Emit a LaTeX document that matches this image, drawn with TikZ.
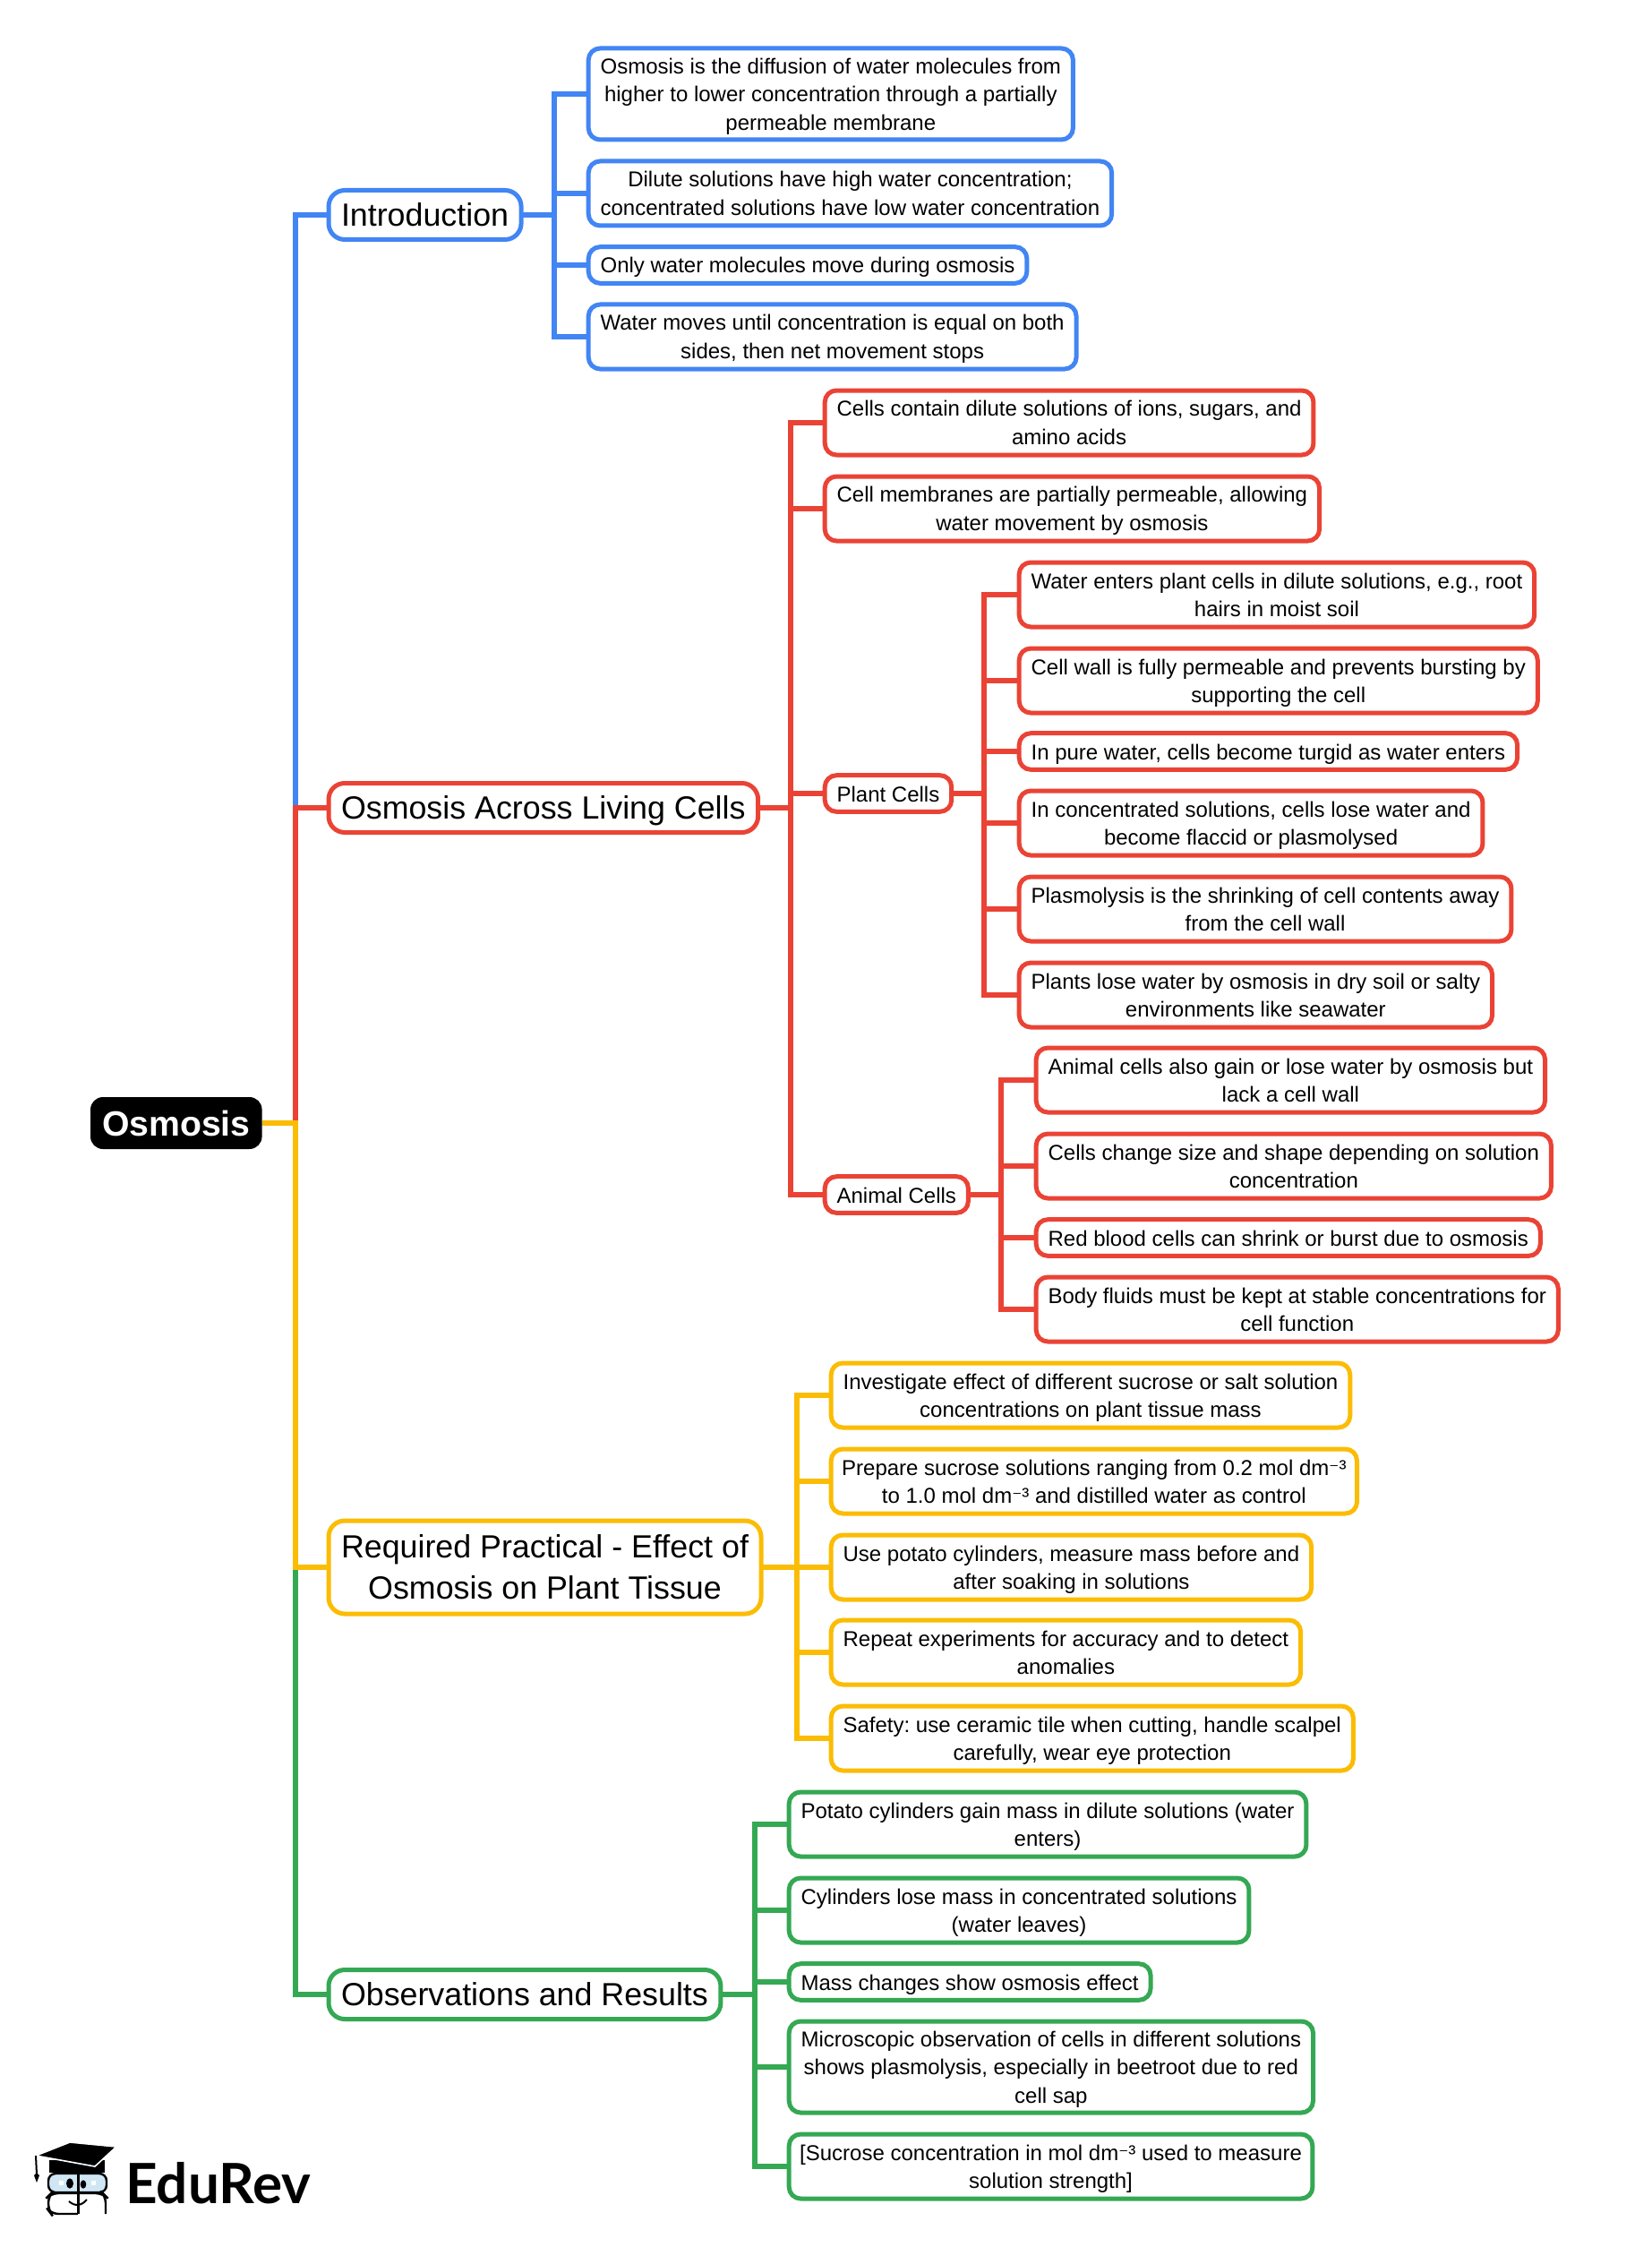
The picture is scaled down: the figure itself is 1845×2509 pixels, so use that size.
\documentclass[tikz,border=0pt]{standalone}
\usepackage{fontspec}
\setmainfont{Liberation Sans}
\newfontfamily\logofont{Lato}
\newfontfamily\supfont{DejaVu Sans}
\newcommand{\dmi}{dm{\supfont\fontsize{10.5}{10.5}\selectfont ⁻}³}
\definecolor{linkblue}{HTML}{4285F4}
\definecolor{linkred}{HTML}{EA4335}
\definecolor{linkyellow}{HTML}{FBBC04}
\definecolor{linkgreen}{HTML}{34A853}
\definecolor{lenscolor}{HTML}{CFE6F5}
\tikzset{
  leaf/.style={draw=#1, fill=white, line width=2.5pt, rounded corners=6.5pt, anchor=west, align=center,
    outer sep=0pt, inner xsep=6.7pt, inner ysep=0pt, minimum height=36pt, xshift=-0.4pt,
    execute at begin node={\rule{0pt}{9pt}}, text depth=0pt,
    font=\frenchspacing\fontsize{12}{15.7}\selectfont},
  oneline/.style={minimum height=20.3pt},
  threeline/.style={minimum height=51pt},
  main/.style={draw=#1, fill=white, line width=2.5pt, rounded corners=9pt, anchor=west, align=center,
    outer sep=0pt, inner xsep=7pt, inner ysep=0pt, minimum height=27.5pt, xshift=-0.5pt,
    font=\fontsize{17.9}{23}\selectfont},
  link/.style={line width=3pt}
}
\begin{document}
\begin{tikzpicture}[x=0.5pt,y=-0.5pt]
\useasboundingbox (0,0) rectangle (1845,2509);

\node[fill=black, text=white, rounded corners=7pt, anchor=west, outer sep=0pt, inner xsep=6.5pt,
  minimum height=29pt, font=\fontsize{19.6}{24}\selectfont\bfseries] (OS) at (101,1254) {Osmosis};

% introduction
\node[main=linkblue] (I) at (368,240) {Introduction};
\node[leaf=linkblue, threeline] (I1) at (658,105) {Osmosis is the diffusion of water molecules from\\higher to lower concentration through a partially\\permeable membrane};
\node[leaf=linkblue] (I2) at (658,216) {Dilute solutions have high water concentration;\\concentrated solutions have low water concentration};
\node[leaf=linkblue, oneline] (I3) at (658,296) {Only water molecules move during osmosis};
\node[leaf=linkblue] (I4) at (658,376) {Water moves until concentration is equal on both\\sides, then net movement stops};

% living cells
\node[main=linkred, text depth=0pt] (L) at (368,902) {Osmosis Across Living Cells};
\node[leaf=linkred] (L1) at (922,472) {Cells contain dilute solutions of ions, sugars, and\\amino acids};
\node[leaf=linkred] (L2) at (922,568) {Cell membranes are partially permeable, allowing\\water movement by osmosis};
\node[leaf=linkred, oneline] (P) at (922,886) {Plant Cells};
\node[leaf=linkred, oneline] (A) at (922,1334) {Animal Cells};

\node[leaf=linkred] (P1) at (1139,664) {Water enters plant cells in dilute solutions, e.g., root\\hairs in moist soil};
\node[leaf=linkred] (P2) at (1139,760) {Cell wall is fully permeable and prevents bursting by\\supporting the cell};
\node[leaf=linkred, oneline] (P3) at (1139,839) {In pure water, cells become turgid as water enters};
\node[leaf=linkred] (P4) at (1139,919) {In concentrated solutions, cells lose water and\\become flaccid or plasmolysed};
\node[leaf=linkred] (P5) at (1139,1015) {Plasmolysis is the shrinking of cell contents away\\from the cell wall};
\node[leaf=linkred] (P6) at (1139,1111) {Plants lose water by osmosis in dry soil or salty\\environments like seawater};

\node[leaf=linkred] (A1) at (1158,1206) {Animal cells also gain or lose water by osmosis but\\lack a cell wall};
\node[leaf=linkred] (A2) at (1158,1302) {Cells change size and shape depending on solution\\concentration};
\node[leaf=linkred, oneline] (A3) at (1158,1382) {Red blood cells can shrink or burst due to osmosis};
\node[leaf=linkred] (A4) at (1158,1462) {Body fluids must be kept at stable concentrations for\\cell function};

% required practical
\node[main=linkyellow, minimum height=52pt] (R) at (368,1750) {Required Practical - Effect of\\Osmosis on Plant Tissue};
\node[leaf=linkyellow] (R1) at (929,1558) {Investigate effect of different sucrose or salt solution\\concentrations on plant tissue mass};
\node[leaf=linkyellow, inner xsep=6pt] (R2) at (929,1654) {Prepare sucrose solutions ranging from 0.2 mol \dmi\\to 1.0 mol \dmi{} and distilled water as control};
\node[leaf=linkyellow] (R3) at (929,1750) {Use potato cylinders, measure mass before and\\after soaking in solutions};
\node[leaf=linkyellow] (R4) at (929,1845) {Repeat experiments for accuracy and to detect\\anomalies};
\node[leaf=linkyellow] (R5) at (929,1941) {Safety: use ceramic tile when cutting, handle scalpel\\carefully, wear eye protection};

% observations
\node[main=linkgreen] (B) at (368,2227) {Observations and Results};
\node[leaf=linkgreen] (B1) at (882,2037) {Potato cylinders gain mass in dilute solutions (water\\enters)};
\node[leaf=linkgreen] (B2) at (882,2133) {Cylinders lose mass in concentrated solutions\\(water leaves)};
\node[leaf=linkgreen, oneline] (B3) at (882,2213) {Mass changes show osmosis effect};
\node[leaf=linkgreen, threeline] (B4) at (882,2308) {Microscopic observation of cells in different solutions\\shows plasmolysis, especially in beetroot due to red\\cell sap};
\node[leaf=linkgreen, inner xsep=6pt] (B5) at (882,2419) {[Sucrose concentration in mol \dmi{} used to measure\\solution strength]};

\coordinate (T) at (330,1254);
\coordinate (IF) at (619,240);
\coordinate (LF) at (883,902);
\coordinate (PF) at (1099,886);
\coordinate (AF) at (1118,1334);
\coordinate (RF) at (890,1750);
\coordinate (BF) at (843,2227);

\draw[link, linkblue] (OS.east) -- (T) |- (I.west);
\draw[link, linkgreen] (OS.east) -- (T) |- (B.west);
\draw[link, linkred] (OS.east) -- (T) |- (L.west);
\draw[link, linkyellow] (OS.east) -- (T) |- (R.west);

\foreach \n in {I1,I2,I3,I4}
  \draw[link, linkblue] (I.east) -- (IF) |- (\n.west);
\foreach \n in {L1,L2,P,A}
  \draw[link, linkred] (L.east) -- (LF) |- (\n.west);
\foreach \n in {P1,P2,P3,P4,P5,P6}
  \draw[link, linkred] (P.east) -- (PF) |- (\n.west);
\foreach \n in {A1,A2,A3,A4}
  \draw[link, linkred] (A.east) -- (AF) |- (\n.west);
\foreach \n in {R1,R2,R3,R4,R5}
  \draw[link, linkyellow] (R.east) -- (RF) |- (\n.west);
\foreach \n in {B1,B2,B3,B4,B5}
  \draw[link, linkgreen] (B.east) -- (BF) |- (\n.west);

% logo
\fill (55,2412) rectangle (117,2426);
\fill[rounded corners=4pt, fill=lenscolor, draw=black, line width=1.2pt] (54,2427) rectangle (119,2448);
\draw[line width=1.2pt, rounded corners=4pt] (87,2472) -- (57,2472) -- (54,2468) -- (54,2452) -- (57,2449) -- (115,2449) -- (118,2452) -- (118,2472);
\draw[line width=1.5pt] (87,2426) -- (87,2472);
\draw[line width=1pt] (77,2458) .. controls (84,2464) and (91,2463) .. (97,2456);
\fill (78,2438) ellipse (4 and 5.7);
\fill (93,2439) ellipse (3.3 and 4.7);
\fill[white] (66,2435) rectangle (71,2440);
\fill[white] (102,2435) rectangle (107,2440);
\fill[draw=white, line width=0.8pt] (40,2407) -- (78,2392) -- (130,2397) -- (106,2419) -- cycle;
\draw[line width=1pt] (40,2407) -- (41,2428);
\fill (41,2437) -- (38,2429) -- (41,2426) -- (44,2429) -- cycle;
\node[anchor=base west, inner sep=0pt, font=\logofont\fontsize{31}{36}\selectfont\bfseries] (LOGO) at (140,2460) {EduRev};
\end{tikzpicture}
\end{document}
